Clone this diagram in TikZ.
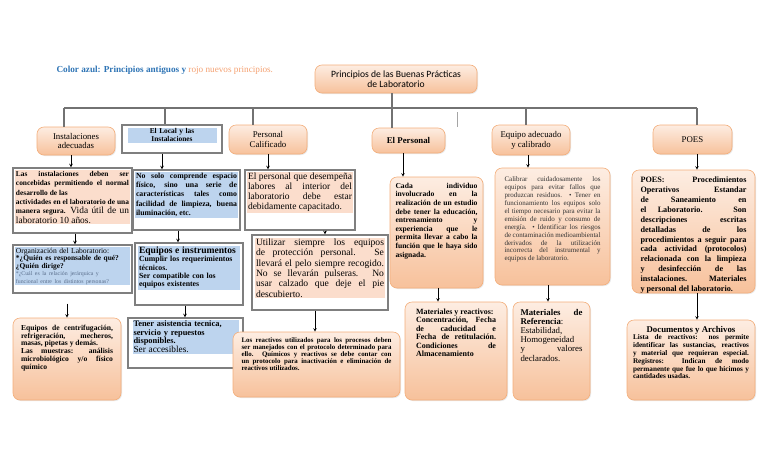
\documentclass[tikz,border=0pt]{standalone}
\usepackage{fontspec}
\setmainfont{Liberation Serif}
\newfontfamily\calibri{Carlito}
\usetikzlibrary{arrows,positioning,shadows}
\definecolor{azul}{HTML}{2E74B5}
\definecolor{rojo}{HTML}{F4A070}
\definecolor{borde}{HTML}{F3AE7B}
\definecolor{cajaA}{HTML}{FDEDE2}
\definecolor{cajaB}{HTML}{F7C19B}
\definecolor{durazno}{HTML}{FBDDCC}
\definecolor{celeste}{HTML}{BDD4EE}
\definecolor{gris}{HTML}{7F7F7F}
\definecolor{grisazul}{HTML}{5A6E8C}
\hyphenpenalty=10000
\exhyphenpenalty=10000
\tolerance=9999
\emergencystretch=3pt

\begin{document}
\begin{tikzpicture}[x=1pt, y=-1pt, line width=0.5pt,
  caja/.style={draw=borde, line width=0.6pt, rounded corners=7pt, top color=cajaA, bottom color=cajaB, inner sep=0pt, drop shadow={opacity=0.18, shadow xshift=1pt, shadow yshift=-1pt}},
  marco/.style={draw=gris, line width=1.3pt, fill=white, inner sep=0pt},
  texto/.style={inner sep=1pt, align=justify},
  flecha/.style={->, >=stealth, line width=0.6pt},
  bus/.style={draw=gris!90!black, line width=1.1pt}]
\useasboundingbox (0,0) rectangle (768,466);

% titulo y raiz
\node[anchor=west, font=\fontsize{9.2}{10}\selectfont] (titulo) at (53,70) {\textcolor{azul}{\textbf{Color azul: Principios antiguos y}} \textcolor{rojo}{rojo nuevos principios.}};
\node[caja, minimum width=162pt, minimum height=28pt, align=center, font=\calibri\fontsize{9.6}{10.5}\selectfont] (raiz) at (396,79) {Principios de las Buenas Prácticas\\de Laboratorio};

% primer nivel
\node[caja, minimum width=78pt, minimum height=28pt, align=center, font=\fontsize{8.8}{9.8}\selectfont] (inst) at (76,141) {Instalaciones\\adecuadas};
\node[marco, minimum width=100pt, minimum height=28pt] (local) at (172,139) {};
\node[texto, align=center, fill=celeste, text width=87pt, below=3pt of local.north, font=\bfseries\fontsize{7.4}{8.2}\selectfont] (local-t) {El Local y las\\Instalaciones};
\node[caja, minimum width=78pt, minimum height=29pt, align=center, font=\fontsize{8.8}{9.8}\selectfont] (personal) at (268,139.5) {Personal\\Calificado};
\node[caja, minimum width=73pt, minimum height=25pt, font=\bfseries\fontsize{8.8}{9.8}\selectfont] (elpersonal) at (408.5,140.5) {El Personal};
\node[caja, minimum width=78pt, minimum height=30pt, align=center, font=\fontsize{8.8}{9.8}\selectfont] (equipo) at (531,140) {Equipo adecuado\\y calibrado};
\node[caja, minimum width=79pt, minimum height=29pt, font=\fontsize{8.8}{9.8}\selectfont] (poes) at (692.5,139.5) {POES};

% segundo nivel
\node[marco, minimum width=119pt, minimum height=65pt] (instdesc) at (72.5,200.5) {};
\node[texto, fill=durazno, text width=113pt, below=2.5pt of instdesc.north, font=\bfseries\fontsize{7.4}{9.4}\selectfont] (instdesc-t) {Las instalaciones deben ser concebidas permitiendo el normal desarrollo de las\\actividades en el laboratorio de una manera segura. {\mdseries\fontsize{9.4}{9.4}\selectfont Vida útil de un laboratorio 10 años.}};
\node[marco, minimum width=107pt, minimum height=60pt] (localdesc) at (186.5,200) {};
\node[texto, fill=celeste, text width=101pt, below=2.5pt of localdesc.north, font=\bfseries\fontsize{7.8}{9.2}\selectfont] (localdesc-t) {No solo comprende espacio físico, sino una serie de características tales como facilidad de limpieza, buena iluminación, etc.};
\node[marco, minimum width=110pt, minimum height=60pt] (personaldesc) at (300,200) {};
\node[texto, fill=durazno, text width=104pt, below=2.5pt of personaldesc.north, font=\fontsize{9.5}{10}\selectfont] (personaldesc-t) {El personal que desempeña labores al interior del laboratorio debe estar debidamente capacitado.};
\node[caja, minimum width=93pt, minimum height=111pt] (cada) at (436.5,232.5) {};
\node[texto, text width=82pt, below=5pt of cada.north, font=\bfseries\fontsize{7.6}{8.6}\selectfont] (cada-t) {Cada individuo involucrado en la realización de un estudio debe tener la educación, entrenamiento y experiencia que le permita llevar a cabo la función que le haya sido asignada.};
\node[caja, minimum width=115pt, minimum height=117pt] (calibrar) at (552.5,226.5) {};
\node[texto, text width=96pt, text=black!80, below=8pt of calibrar.north, font=\fontsize{7}{7.9}\selectfont] (calibrar-t) {Calibrar cuidadosamente los equipos para evitar fallos que produzcan residuos. • Tener en funcionamiento los equipos solo el tiempo necesario para evitar la emisión de ruido y consumo de energía. • Identificar los riesgos de contaminación medioambiental derivados de la utilización incorrecta del instrumental y equipos de laboratorio.};
\node[caja, minimum width=123pt, minimum height=123pt] (poesdesc) at (693.5,231.5) {};
\node[texto, text width=106pt, below=6pt of poesdesc.north, font=\bfseries\fontsize{8.2}{9.9}\selectfont] (poesdesc-t) {POES: Procedimientos Operativos Estandar de Saneamiento en el Laboratorio. Son descripciones escritas detalladas de los procedimientos a seguir para cada actividad (protocolos) relacionada con la limpieza y desinfección de las instalaciones. Materiales y personal del laboratorio.};

% tercer nivel
\node[marco, minimum width=119pt, minimum height=48pt] (organiz) at (72.5,269) {};
\node[texto, align=left, fill=celeste, text width=113pt, below=2.5pt of organiz.north, font=\fontsize{7.6}{7.6}\selectfont] (organiz-t) {Organización del Laboratorio:\\{\bfseries\fontsize{7.4}{7.6}\selectfont *¿Quién es responsable de qué?\\*¿Quién dirige?}\\{\color{grisazul}\fontsize{5.8}{7}\selectfont *¿Cuál es la relación jerárquica y\\funcional entre los distintos personas?}};
\node[marco, minimum width=108pt, minimum height=62pt] (equipos) at (189,274) {};
\node[texto, align=left, fill=celeste, text width=100pt, below=3pt of equipos.north, font=\bfseries\fontsize{7.8}{8.4}\selectfont] (equipos-t) {{\fontsize{9.6}{8.4}\selectfont Equipos e instrumentos}\\Cumplir los requerimientos\\técnicos.\\Ser compatible con los\\equipos existentes};
\node[marco, minimum width=136pt, minimum height=75pt] (utilizar) at (320,272.5) {};
\node[texto, fill=durazno, text width=128pt, below=3pt of utilizar.north, font=\fontsize{9.6}{10.4}\selectfont] (utilizar-t) {Utilizar siempre los equipos de protección personal. Se llevará el pelo siempre recogido. No se llevarán pulseras. No usar calzado que deje el pie descubierto.};
\node[caja, minimum width=102pt, minimum height=98pt] (materiales) at (456,351) {};
\node[texto, text width=80pt, below=6pt of materiales.north, font=\bfseries\fontsize{8}{8.4}\selectfont] (materiales-t) {Materiales y reactivos:\\Concentración, Fecha de caducidad e Fecha de retitulación. Condiciones de Almacenamiento};
\node[caja, minimum width=77pt, minimum height=98pt] (referencia) at (551.5,351) {};
\node[texto, text width=62pt, below=6pt of referencia.north, font=\fontsize{8.8}{9.2}\selectfont] (referencia-t) {\textbf{Materiales de Referencia}: Estabilidad, Homogeneidad y valores declarados.};
\node[caja, minimum width=128pt, minimum height=80pt] (documentos) at (691,360) {};
\node[texto, text width=116pt, below=5pt of documentos.north, font=\bfseries\fontsize{7.2}{7.8}\selectfont] (documentos-t) {{\centering\fontsize{8.8}{9.6}\selectfont Documentos y Archivos\par}Lista de reactivos: nos permite identificar las sustancias, reactivos y material que requieran especial. Registros: Indican de modo permanente que fue lo que hicimos y cantidades usadas.};

% cuarto nivel
\node[caja, minimum width=108pt, minimum height=82pt] (centrif) at (67,359) {};
\node[texto, text width=92pt, below=6pt of centrif.north, font=\bfseries\fontsize{7.6}{7.8}\selectfont] (centrif-t) {Equipos de centrifugación, refrigeración, mecheros, masas, pipetas y demás.\\Las muestras: análisis microbiológico y/o físico químico};
\node[marco, minimum width=115pt, minimum height=50pt] (tener) at (185.5,343) {};
\node[texto, align=left, fill=celeste, text width=104pt, below=2.5pt of tener.north, font=\bfseries\fontsize{8.4}{8.2}\selectfont] (tener-t) {Tener asistencia tecnica,\\servicio y repuestos\\disponibles.\\{\mdseries\fontsize{9.3}{8.2}\selectfont Ser accesibles.}};
\node[caja, minimum width=167pt, minimum height=65pt] (reactivos) at (316.5,364.5) {};
\node[texto, text width=150pt, below=5pt of reactivos.north, font=\bfseries\fontsize{6.9}{7}\selectfont] (reactivos-t) {Los reactivos utilizados para los procesos deben ser manejados con el protocolo determinado para ello. Químicos y reactivos se debe contar con un protocolo para inactivación e eliminación de reactivos utilizados.};

% lineas
\draw[bus] (64,108) -- (697,108);
\foreach \x/\n in {64/inst,165/local,253/personal,526/equipo,697/poes}
  \draw[bus] (\x,108) -- (\x,0 |- \n.north);
\draw[bus] (raiz.south -| 392,0) -- (392,0 |- elpersonal.north);
\draw[gris!70, line width=1pt] (457,112) -- (457,127);

% flechas
\draw[flecha] (inst.south -| 71,0) -- (71,0 |- instdesc.north);
\draw[flecha] (local.south -| 162,0) -- (162,0 |- localdesc.north);
\draw[flecha] (personal.south -| 268,0) -- (268,0 |- personaldesc.north);
\draw[flecha] (elpersonal.south -| 403,0) -- (403,0 |- cada.north);
\draw[flecha] (equipo.south -| 528,0) -- (528,0 |- calibrar.north);
\draw[flecha] (poes.south -| 697,0) -- (697,0 |- poesdesc.north);
\draw[flecha] (instdesc.south -| 75,0) -- (75,0 |- organiz.north);
\draw[flecha] (localdesc.south -| 178,0) -- (178,0 |- equipos.north);
\draw[flecha] (personaldesc.south -| 325,0) -- (325,0 |- utilizar.north);
\draw[flecha] (cada.south -| 438,0) -- (438,0 |- materiales.north);
\draw[flecha] (calibrar.south -| 548,0) -- (548,0 |- referencia.north);
\draw[flecha] (poesdesc.south -| 697,0) -- (697,0 |- documentos.north);
\draw[flecha, shorten <=10pt] (organiz.south -| 67,0) -- (67,0 |- centrif.north);
\draw[flecha] (equipos.south -| 185,0) -- (185,0 |- tener.north);
\draw[flecha] (utilizar.south -| 315,0) -- (315,0 |- reactivos.north);

\end{tikzpicture}
\end{document}
